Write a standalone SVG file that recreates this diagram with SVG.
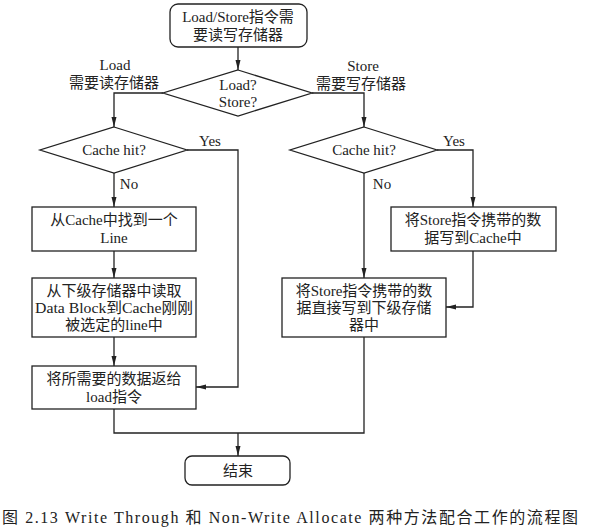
<svg xmlns="http://www.w3.org/2000/svg" width="590" height="532" viewBox="0 0 590 532">
<style>
.s{fill:#fff;stroke:#222;stroke-width:1.3}
.c{fill:none;stroke:#222;stroke-width:1.3}
text{font-family:"Liberation Serif","Noto Sans CJK SC",serif;font-size:15px;fill:#222;text-anchor:middle}
.cap{font-size:16px;text-anchor:start}
</style>
<defs>
<marker id="a" markerWidth="10" markerHeight="6" refX="10" refY="3" orient="auto" markerUnits="userSpaceOnUse">
<path d="M0,0.5 L10,3 L0,5.5 Z" fill="#222"/>
</marker>
</defs>
<rect width="590" height="532" fill="#fff"/>
<g id="connectors">
<path class="c" d="M238,47 V70" marker-end="url(#a)"/>
<path class="c" d="M163,93 H114 V127" marker-end="url(#a)"/>
<path class="c" d="M312,93 H364 V127" marker-end="url(#a)"/>
<path class="c" d="M114,173 V207" marker-end="url(#a)"/>
<path class="c" d="M187,150 H238 V387 H196" marker-end="url(#a)"/>
<path class="c" d="M114,251 V278" marker-end="url(#a)"/>
<path class="c" d="M114,337 V366" marker-end="url(#a)"/>
<path class="c" d="M114,409 V433 H364 V337"/>
<path class="c" d="M238,433 V456" marker-end="url(#a)"/>
<path class="c" d="M364,173 V278" marker-end="url(#a)"/>
<path class="c" d="M437,150 H473 V207" marker-end="url(#a)"/>
<path class="c" d="M473,251 V307 H446" marker-end="url(#a)"/>
<text x="115" y="70">Load</text>
<text x="114" y="88">需要读存储器</text>
<text x="363" y="71">Store</text>
<text x="361" y="89">需要写存储器</text>
<text x="210" y="146">Yes</text>
<text x="129" y="189">No</text>
<text x="454" y="146">Yes</text>
<text x="382" y="189">No</text>
</g>
<g id="start">
<rect class="s" x="170" y="4" width="137" height="43" rx="8"/>
<text x="238" y="22">Load/Store指令需</text>
<text x="238" y="40">要读写存储器</text>
</g>
<g id="loadstore">
<polygon class="s" points="238,70 312,93 238,116 163,93"/>
<text x="238" y="90">Load?</text>
<text x="238" y="107">Store?</text>
</g>
<g id="hitL">
<polygon class="s" points="114,127 187,150 114,173 40,150"/>
<text x="114" y="155">Cache hit?</text>
</g>
<g id="findLine">
<rect class="s" x="32" y="207" width="164" height="44"/>
<text x="114" y="225">从Cache中找到一个</text>
<text x="114" y="243">Line</text>
</g>
<g id="readBlock">
<rect class="s" x="32" y="278" width="164" height="59"/>
<text x="114" y="296">从下级存储器中读取</text>
<text x="114" y="313" textLength="158" lengthAdjust="spacingAndGlyphs">Data Block到Cache刚刚</text>
<text x="114" y="330">被选定的line中</text>
</g>
<g id="returnData">
<rect class="s" x="32" y="366" width="164" height="43"/>
<text x="114" y="384">将所需要的数据返给</text>
<text x="114" y="402">load指令</text>
</g>
<g id="hitR">
<polygon class="s" points="364,127 437,150 364,173 290,150"/>
<text x="364" y="155">Cache hit?</text>
</g>
<g id="writeCache">
<rect class="s" x="391" y="207" width="165" height="44"/>
<text x="473" y="225">将Store指令携带的数</text>
<text x="473" y="243">据写到Cache中</text>
</g>
<g id="writeMem">
<rect class="s" x="282" y="278" width="164" height="59"/>
<text x="364" y="296">将Store指令携带的数</text>
<text x="364" y="313">据直接写到下级存储</text>
<text x="364" y="330">器中</text>
</g>
<g id="end">
<rect class="s" x="185" y="456" width="105" height="29" rx="7"/>
<text x="238" y="476">结束</text>
</g>
<text class="cap" x="2" y="523" textLength="576" lengthAdjust="spacing">图 2.13   Write Through 和 Non-Write Allocate 两种方法配合工作的流程图</text>
</svg>
